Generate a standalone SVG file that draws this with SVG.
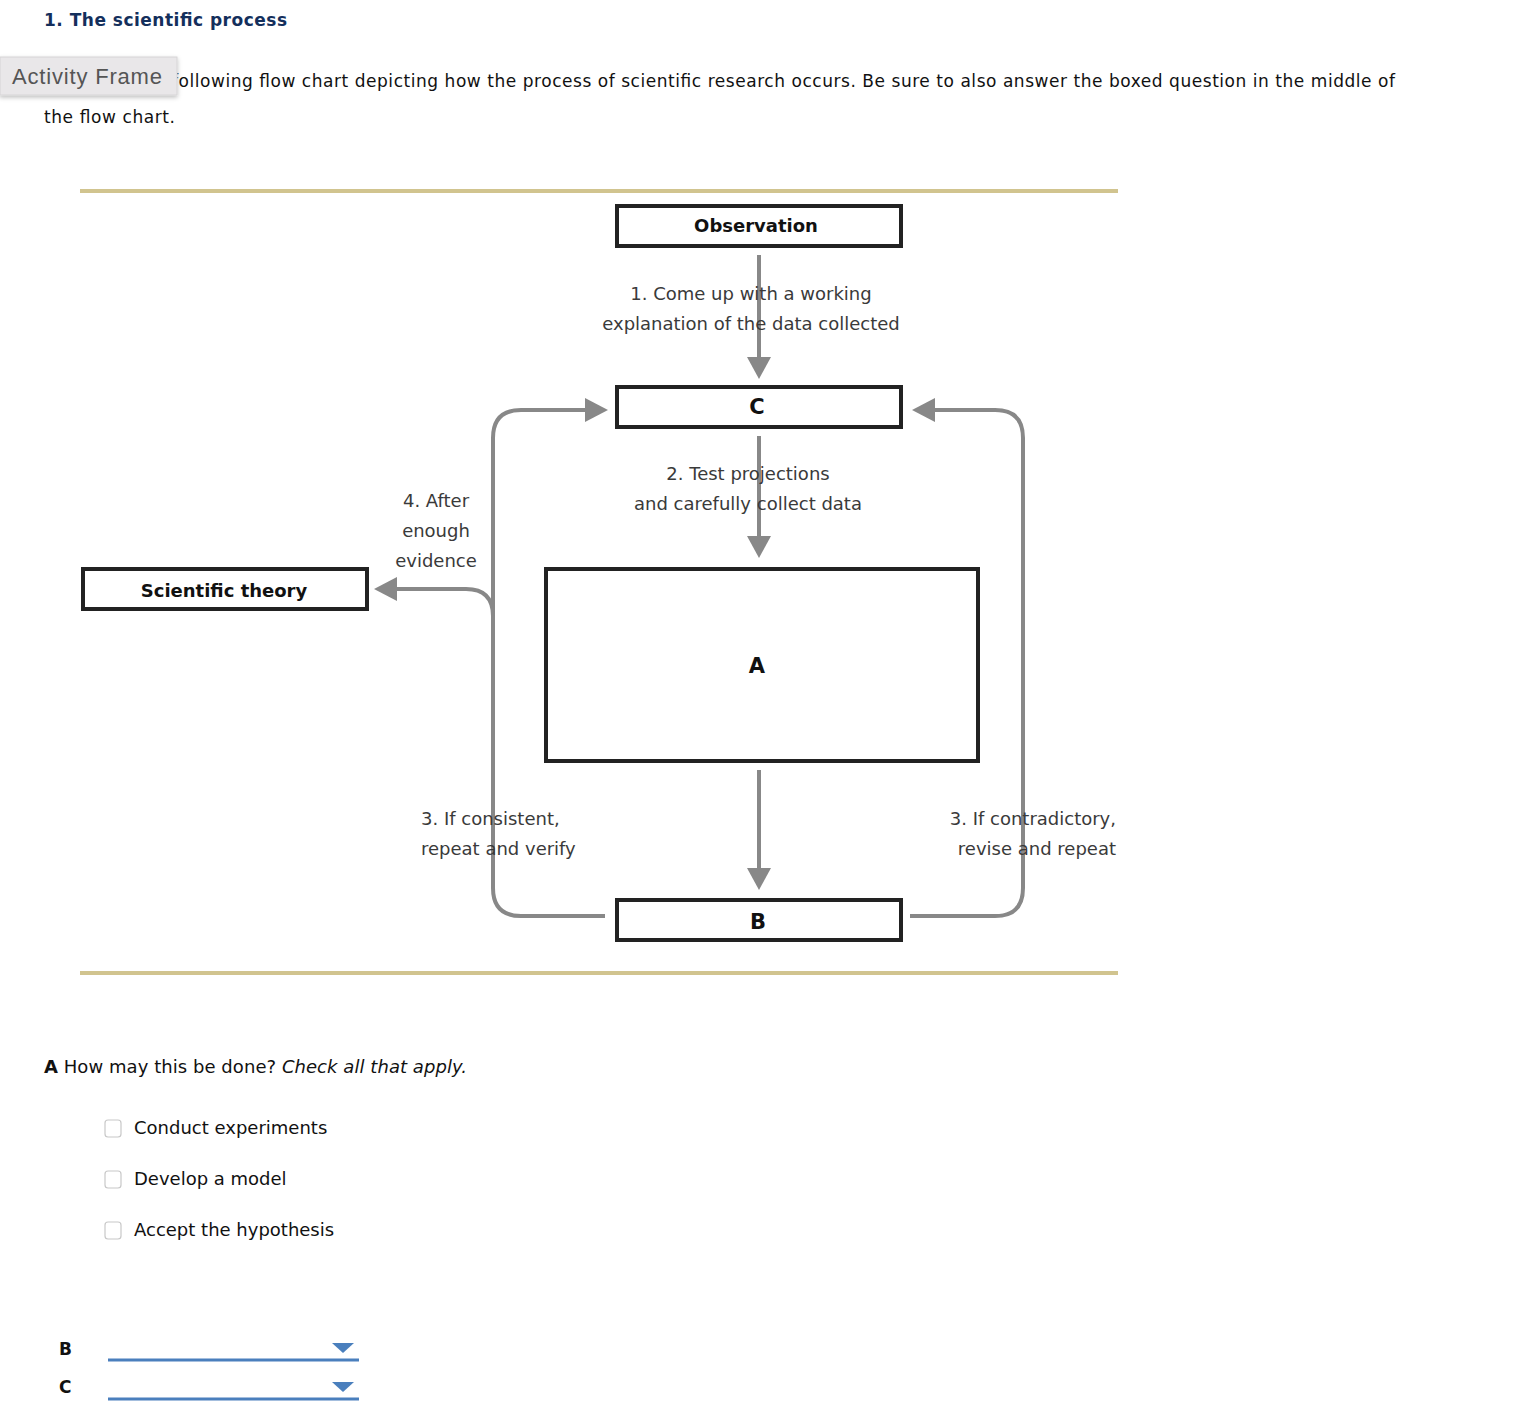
<svg xmlns="http://www.w3.org/2000/svg" width="1528" height="1422" viewBox="0 0 1528 1422">
<defs>
<style>
.t{font-family:"DejaVu Sans",Verdana,sans-serif;}
.body{font-size:17px;fill:#111;}
.opt{font-size:18px;fill:#111;}
.lbl{font-size:18px;fill:#3a3a3a;}
.nb{font-size:18px;font-weight:bold;fill:#111;text-anchor:middle;}
.big{font-size:21px;}
.box{fill:#fff;stroke:#222;stroke-width:4;}
.conn{fill:none;stroke:#888;stroke-width:4;}
.head{fill:#888;}
.gold{stroke:#d1c48f;stroke-width:4;}
.cb{fill:#fff;stroke:#c8c8c8;stroke-width:1.2;}
.dd{stroke:#4a7fbd;stroke-width:3;}
.ddh{fill:#4a7fbd;}
</style>
<filter id="sh" x="-10%" y="-30%" width="130%" height="180%">
<feDropShadow dx="0" dy="2" stdDeviation="2" flood-color="#000" flood-opacity="0.25"/>
</filter>
</defs>
<rect width="1528" height="1422" fill="#fff"/>

<g id="header">
<text class="t" x="44" y="26" font-size="17" font-weight="bold" fill="#142f5c" textLength="243">1. The scientific process</text>
<text class="t body" x="172" y="87" textLength="1223">following flow chart depicting how the process of scientific research occurs. Be sure to also answer the boxed question in the middle of</text>
<text class="t body" x="44" y="123" textLength="131">the flow chart.</text>
<g id="activity-frame">
<rect x="0" y="57" width="177" height="38" fill="#e9e7e9" stroke="#d6d4d6" stroke-width="1" filter="url(#sh)"/>
<text x="12" y="84" font-family="Liberation Sans, Arial, sans-serif" font-size="22" fill="#555" textLength="150">Activity Frame</text>
</g>
</g>

<g id="frame-lines">
<line class="gold" x1="80" y1="191" x2="1118" y2="191"/>
<line class="gold" x1="80" y1="973" x2="1118" y2="973"/>
</g>

<g id="connectors">
<line class="conn" x1="759" y1="255" x2="759" y2="360"/>
<polygon class="head" points="747,357 771,357 759,379"/>
<line class="conn" x1="759" y1="436" x2="759" y2="540"/>
<polygon class="head" points="747,536 771,536 759,558"/>
<line class="conn" x1="759" y1="770" x2="759" y2="870"/>
<polygon class="head" points="747,868 771,868 759,890"/>
<path class="conn" d="M605,916 H521 Q493,916 493,888 V438 Q493,410 521,410 H588"/>
<polygon class="head" points="585,398 585,422 608,410"/>
<path class="conn" d="M493,616 Q493,589 466,589 H394"/>
<polygon class="head" points="397,577 397,601 374,589"/>
<path class="conn" d="M910,916 H995 Q1023,916 1023,888 V438 Q1023,410 995,410 H932"/>
<polygon class="head" points="935,398 935,422 912,410"/>
</g>

<g id="labels">
<text class="t lbl" x="751" y="300" text-anchor="middle">1. Come up with a working</text>
<text class="t lbl" x="751" y="330" text-anchor="middle">explanation of the data collected</text>
<text class="t lbl" x="748" y="480" text-anchor="middle">2. Test projections</text>
<text class="t lbl" x="748" y="510" text-anchor="middle">and carefully collect data</text>
<text class="t lbl" x="436" y="507" text-anchor="middle">4. After</text>
<text class="t lbl" x="436" y="537" text-anchor="middle">enough</text>
<text class="t lbl" x="436" y="567" text-anchor="middle">evidence</text>
<text class="t lbl" x="421" y="825">3. If consistent,</text>
<text class="t lbl" x="421" y="855">repeat and verify</text>
<text class="t lbl" x="1116" y="825" text-anchor="end">3. If contradictory,</text>
<text class="t lbl" x="1116" y="855" text-anchor="end">revise and repeat</text>
</g>

<g id="node-observation">
<rect class="box" x="617" y="206" width="284" height="40"/>
<text class="t nb" x="756" y="232">Observation</text>
</g>
<g id="node-c">
<rect class="box" x="617" y="387" width="284" height="40"/>
<text class="t nb big" x="757" y="414">C</text>
</g>
<g id="node-a">
<rect class="box" x="546" y="569" width="432" height="192"/>
<text class="t nb big" x="757" y="673">A</text>
</g>
<g id="node-b">
<rect class="box" x="617" y="900" width="284" height="40"/>
<text class="t nb big" x="758" y="929">B</text>
</g>
<g id="node-theory">
<rect class="box" x="83" y="569" width="284" height="40"/>
<text class="t nb" x="224" y="597">Scientific theory</text>
</g>

<g id="question">
<text class="t opt" x="44" y="1073" textLength="423"><tspan font-weight="bold">A</tspan> How may this be done? <tspan font-style="italic">Check all that apply.</tspan></text>
<rect class="cb" x="105" y="1120" width="16" height="17" rx="3"/>
<text class="t opt" x="134" y="1134">Conduct experiments</text>
<rect class="cb" x="105" y="1171" width="16" height="17" rx="3"/>
<text class="t opt" x="134" y="1185">Develop a model</text>
<rect class="cb" x="105" y="1222" width="16" height="17" rx="3"/>
<text class="t opt" x="134" y="1236">Accept the hypothesis</text>
</g>

<g id="dropdowns">
<text class="t" x="59" y="1355" font-size="17" font-weight="bold" fill="#111">B</text>
<line class="dd" x1="108" y1="1360" x2="359" y2="1360"/>
<polygon class="ddh" points="332,1343 354,1343 343,1353"/>
<text class="t" x="59" y="1393" font-size="17" font-weight="bold" fill="#111">C</text>
<line class="dd" x1="108" y1="1399" x2="359" y2="1399"/>
<polygon class="ddh" points="332,1382 354,1382 343,1392"/>
</g>
</svg>
